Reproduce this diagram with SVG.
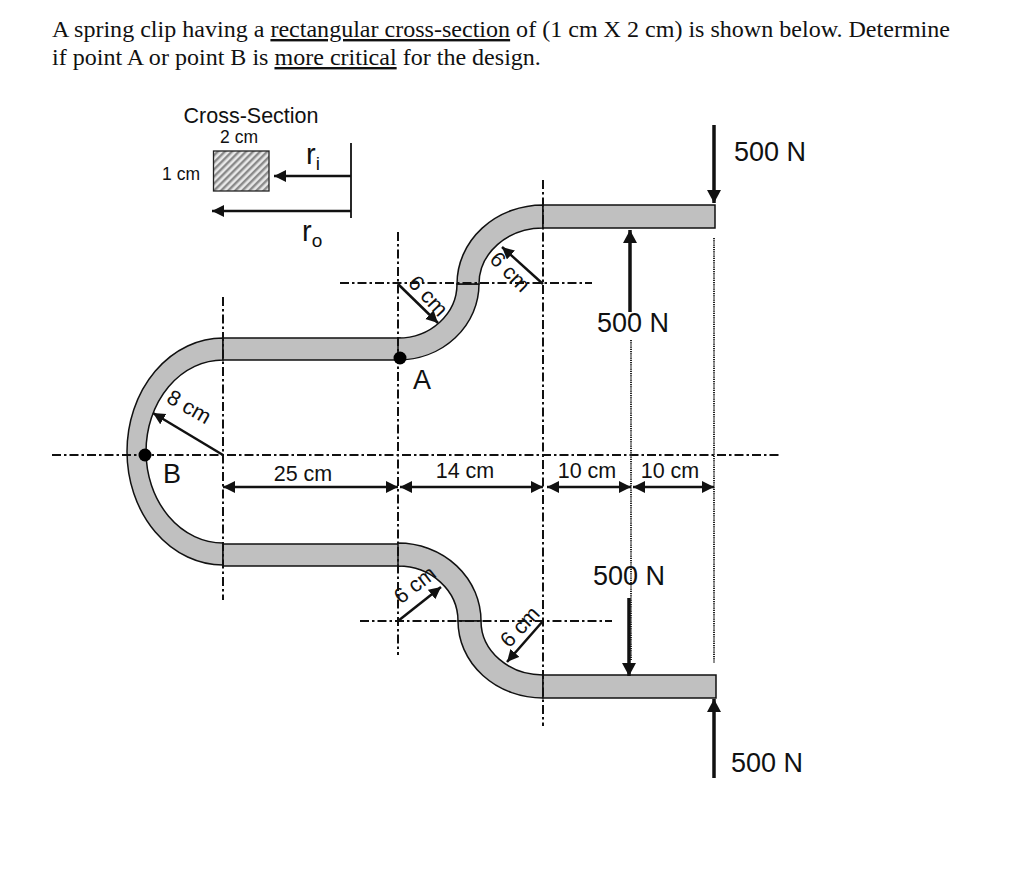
<svg xmlns="http://www.w3.org/2000/svg" width="1024" height="871" viewBox="0 0 1024 871">
<style>
.s{font-family:"Liberation Sans",Arial,sans-serif;fill:#111}
.t{font-family:"Liberation Serif","Times New Roman",serif;font-size:24.05px;fill:#111}
.body{fill:#c0c0c0;stroke:#111;stroke-width:1.5}
.cl{fill:none;stroke:#111;stroke-width:2;stroke-dasharray:9 3 2.500 3}
.dot{fill:none;stroke:#222;stroke-width:2;stroke-dasharray:1.2 1}
.ar{fill:none;stroke:#111;stroke-width:2.500;marker-end:url(#h)}
.dim{fill:none;stroke:#111;stroke-width:2.500;marker-start:url(#hs);marker-end:url(#h)}
.f{fill:none;stroke:#111;stroke-width:3.500;marker-end:url(#hf)}
.d{fill:#000}
</style>
<defs>
<marker id="h" markerUnits="userSpaceOnUse" markerWidth="14" markerHeight="14" refX="12" refY="6" orient="auto"><path d="M0 0L12 6L0 12Z" fill="#111"/></marker>
<marker id="hs" markerUnits="userSpaceOnUse" markerWidth="14" markerHeight="14" refX="0" refY="6" orient="auto"><path d="M12 0L0 6L12 12Z" fill="#111"/></marker>
<marker id="hf" markerUnits="userSpaceOnUse" markerWidth="15" markerHeight="15" refX="13" refY="7" orient="auto"><path d="M0 0L13 7L0 14Z" fill="#111"/></marker>
<pattern id="hatch" patternUnits="userSpaceOnUse" width="5" height="5" patternTransform="rotate(-45)"><rect width="5" height="5" fill="#e8e8e8"/><rect width="5" height="2.400" fill="#8a8a8a"/></pattern>
</defs>

<g id="statement" class="t">
<text x="52" y="37">A spring clip having a <tspan text-decoration="underline">rectangular cross-section</tspan> of (1 cm X 2 cm) is shown below. Determine</text>
<text x="52" y="65">if point A or point B is <tspan text-decoration="underline">more critical</tspan> for the design.</text>
</g>

<g id="cross-section">
<text class="s" x="251" y="123" font-size="21.500" text-anchor="middle">Cross-Section</text>
<text class="s" x="239" y="143" font-size="17.500" text-anchor="middle">2 cm</text>
<text class="s" x="181" y="180" font-size="17.500" text-anchor="middle">1 cm</text>
<rect x="213.500" y="151" width="55.500" height="40" fill="url(#hatch)" stroke="#222" stroke-width="1.300"/>
<path d="M351 143V218" fill="none" stroke="#111" stroke-width="1.800"/>
<text class="s" x="306" y="164" font-size="29">r<tspan font-size="19" dy="6">i</tspan></text>
<text class="s" x="302" y="241" font-size="29">r<tspan font-size="19" dy="6">o</tspan></text>
</g>

<g id="clip-body">
<path class="body" d="M223 338A96 113.500 0 0 0 223 565V543A77 91.500 0 0 1 223 360Z"/>
<rect class="body" x="223" y="338" width="177" height="22"/>
<rect class="body" x="223" y="544" width="177" height="22"/>
<path class="body" d="M398 338A59 54 0 0 0 457 284H479A81 76 0 0 1 398 360Z"/>
<path class="body" d="M457 284A86 79 0 0 1 543 205V228A64 56 0 0 0 479 284Z"/>
<rect class="body" x="543" y="205" width="172" height="23"/>
<path class="body" d="M398 543A83 78 0 0 1 481 621H458A60 55 0 0 0 398 566Z"/>
<path class="body" d="M458 621A85 77 0 0 0 543 698V675A62 54 0 0 1 481 621Z"/>
<rect class="body" x="543" y="675" width="173" height="23"/>
</g>

<g id="connectors">
<path class="cl" d="M52 455H780"/>
<path class="cl" d="M340 283H592"/>
<path class="cl" d="M360 621H612"/>
<path class="cl" d="M223 297V600"/>
<path class="cl" d="M398 232V655"/>
<path class="cl" d="M543 180V726"/>
<path class="dot" d="M631 340V660"/>
<path class="dot" d="M714 238V663"/>
<path class="ar" d="M351 176H274"/>
<path class="ar" d="M351 211H212"/>
<path class="ar" d="M223 455L153 413"/>
<path class="ar" d="M398 284L438 323"/>
<path class="ar" d="M543 284L502 247"/>
<path class="ar" d="M398 621L441 587"/>
<path class="ar" d="M543 621L507 662"/>
<path class="dim" d="M223 487H398"/>
<path class="dim" d="M400 487H543"/>
<path class="dim" d="M547 487H631"/>
<path class="dim" d="M633 487H714"/>
<path class="f" d="M714 125V203"/>
<path class="f" d="M630 312V230"/>
<path class="f" d="M629 598V676"/>
<path class="f" d="M714 778V699"/>
</g>

<g id="point-a"><circle class="d" cx="400" cy="358" r="6.500"/><text class="s" x="422" y="389" font-size="27" text-anchor="middle">A</text></g>
<g id="point-b"><circle class="d" cx="145" cy="455" r="6.500"/><text class="s" x="172" y="483" font-size="27" text-anchor="middle">B</text></g>

<g id="labels" class="s" font-size="21.500">
<text x="303" y="481" text-anchor="middle">25 cm</text>
<text x="465" y="478" text-anchor="middle">14 cm</text>
<text x="587" y="478" text-anchor="middle">10 cm</text>
<text x="670" y="478" text-anchor="middle">10 cm</text>
<text x="189" y="414" transform="rotate(30 189 407)" text-anchor="middle">8 cm</text>
<text x="428" y="303" transform="rotate(47 428 296)" text-anchor="middle">6 cm</text>
<text x="510" y="279" transform="rotate(45 510 272)" text-anchor="middle">6 cm</text>
<text x="415" y="592" transform="rotate(-38 415 585)" text-anchor="middle">6 cm</text>
<text x="520" y="634" transform="rotate(-47 520 627)" text-anchor="middle">6 cm</text>
</g>
<g id="forces" class="s" font-size="27" text-anchor="middle">
<text x="770" y="161">500 N</text>
<text x="633" y="332">500 N</text>
<text x="629" y="585">500 N</text>
<text x="767" y="772">500 N</text>
</g>
</svg>
